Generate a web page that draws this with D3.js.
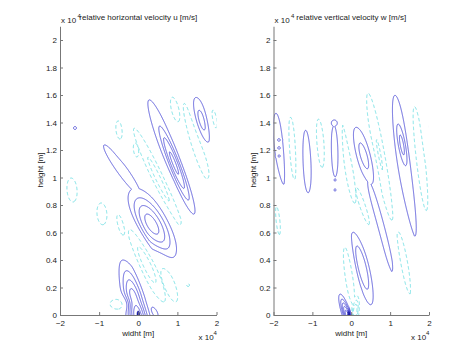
<!DOCTYPE html>
<html><head><meta charset="utf-8">
<script src="https://cdn.jsdelivr.net/npm/d3@7"></script>
<style>
body{margin:0;background:#fff}
text{font-family:"Liberation Sans",Arial,Helvetica,sans-serif;fill:#222}
</style>
</head><body>
<svg id="chart" width="474" height="350"></svg>
<script>
// ---------- data (all lengths in units of 1e4 m) ----------
const xTicks = [-2, -1, 0, 1, 2];
const yTicks = [0, 0.2, 0.4, 0.6, 0.8, 1, 1.2, 1.4, 1.6, 1.8, 2];
const xDomain = [-2, 2];
const yDomain = [0, 2.1];
const positiveLevels = [1, 2, 3, 4, 5, 6, 7, 8, 9, 10, 11, 12, 13, 14];
const negativeLevels = [1, 2, 3, 4];
const panelTitles = ["relative horizontal velocity u [m/s]", "relative vertical velocity w [m/s]"];
const xLabel = "widht [m]";
const yLabel = "height [m]";

// flow features: [centreX, centreY, tipX, tipY, halfWidth, amplitude]
const uPositive = [
  [-1.617, 1.360, -1.617, 1.371, 0.038, 1.15],
  [-0.415, 1.055, -0.875, 1.236, 0.128, 1.6],
  [0.351, 0.655, -0.160, 0.916, 0.42, 4.6],
  [0.799, 1.182, 0.275, 1.564, 0.19, 1.6],
  [0.914, 1.105, 0.403, 1.476, 0.176, 4.3],
  [1.604, 1.411, 1.450, 1.585, 0.190, 2.5],
  [1.911, 0.851, 1.911, 0.902, 0.064, 1.3],
  [1.425, 0.480, 1.323, 0.567, 0.153, 1.35],
  [-0.006, -0.0145, -0.390, 0.422, 0.307, 6],
  [0.000, -0.007, 0.000, 0.065, 0.050, 12],
  [0.428, 0.022, 0.351, 0.065, 0.077, 1.3]
];
const uNegative = [
  [-0.492, 1.345, -0.518, 1.411, 0.077, 1.3],
  [-0.058, 1.200, -0.083, 1.251, 0.064, 1.3],
  [-1.693, 0.909, -1.719, 0.996, 0.128, 1.3],
  [-0.926, 0.735, -0.952, 0.815, 0.128, 1.3],
  [-0.441, 0.647, -0.518, 0.749, 0.090, 1.3],
  [-0.441, 0.080, -0.722, 0.080, 0.153, 1.8],
  [0.198, 0.385, -0.262, 0.676, 0.204, 2.6],
  [0.530, 0.982, -0.109, 1.360, 0.153, 2.4],
  [1.476, 1.273, 1.169, 1.564, 0.150, 2.2],
  [0.939, 1.491, 0.863, 1.585, 0.102, 1.5],
  [1.936, 1.418, 1.885, 1.505, 0.077, 1.3],
  [1.272, 0.218, 1.272, 0.233, 0.050, 1.1],
  [0.760, 0.255, 0.556, 0.415, 0.153, 1.6]
];
const wPositive = [
  [-1.846, 1.189, -1.936, 1.469, 0.141, 1.6],
  [-1.859, 1.273, -1.859, 1.304, 0.11, 2.2],
  [-1.859, 1.215, -1.859, 1.246, 0.11, 2.2],
  [-1.859, 1.156, -1.859, 1.187, 0.11, 2.2],
  [-1.138, 1.120, -1.164, 1.353, 0.116, 1.5],
  [-0.418, 1.215, -0.418, 1.430, 0.103, 1.8],
  [-0.418, 1.396, -0.418, 1.425, 0.100, 2.2],
  [-0.418, 0.982, -0.418, 0.993, 0.026, 1.15],
  [-0.418, 0.909, -0.418, 0.920, 0.026, 1.15],
  [0.328, 1.156, 0.0965, 1.367, 0.206, 2.4],
  [0.765, 0.633, 0.431, 0.982, 0.141, 1.6],
  [1.408, 1.069, 1.125, 1.600, 0.206, 1.6],
  [1.305, 1.236, 1.151, 1.469, 0.141, 3.4],
  [2.103, 1.360, 2.103, 1.469, 0.103, 1.3],
  [0.2765, 0.356, 0.045, 0.640, 0.180, 3.05],
  [-0.084, -0.0145, -0.289, 0.153, 0.129, 6],
  [-0.058, -0.007, -0.084, 0.073, 0.051, 10]
];
const wNegative = [
  [-1.524, 1.200, -1.576, 1.455, 0.103, 1.5],
  [-0.804, 1.251, -0.855, 1.433, 0.103, 1.4],
  [-0.084, 1.113, -0.264, 1.440, 0.110, 1.5],
  [0.740, 1.127, 0.431, 1.615, 0.154, 2.2],
  [1.768, 1.091, 1.588, 1.564, 0.154, 1.9],
  [1.357, 0.385, 1.203, 0.655, 0.129, 1.5],
  [0.354, 0.764, 0.122, 0.945, 0.103, 1.5],
  [-0.058, 0.291, -0.161, 0.509, 0.103, 1.6],
  [0.0965, 0.022, 0.148, 0.145, 0.103, 4],
  [-1.884, 0.727, -1.936, 0.895, 0.077, 1.3]
];

// ---------- drawing ----------
const svg = d3.select("#chart");
const panels = [
  {xr: [60, 216.5], pos: uPositive, neg: uNegative, title: panelTitles[0], ylx: 43},
  {xr: [273.5, 429], pos: wPositive, neg: wNegative, title: panelTitles[1], ylx: 256}
];
const yRange = [315, 26.25];
const solidColor = "#5151d8";
const deepColor = "#1c1ca8";
const dashColor = "#6fdfe3";

panels.forEach((p, idx) => {
  const x = d3.scaleLinear().domain(xDomain).range(p.xr);
  const y = d3.scaleLinear().domain(yDomain).range(yRange);
  const kx = x(1) - x(0);
  const prep = b => {
    const [cx, cy, tx, ty, w, a] = b;
    const px = x(cx), py = y(cy), qx = x(tx), qy = y(ty);
    const L = Math.hypot(qx - px, qy - py) || 1;
    const k = a > 1.05 ? Math.sqrt(2 * Math.log(a)) : 1;
    const sa = L / k, sb = w * kx / k;
    return {px, py, ux: (qx - px) / L, uy: (qy - py) / L,
            ia: 1 / (2 * sa * sa), ib: 1 / (2 * sb * sb), a};
  };
  const posB = p.pos.map(prep), negB = p.neg.map(prep);
  const evalMax = (list, xx, yy) => {
    let m = 0;
    for (const b of list) {
      const dx = xx - b.px, dy = yy - b.py;
      const u = dx * b.ux + dy * b.uy, v = -dx * b.uy + dy * b.ux;
      const e = u * u * b.ia + v * v * b.ib;
      if (e < 25) { const val = b.a * Math.exp(-e); if (val > m) m = val; }
    }
    return m;
  };
  const step = 0.5, pad = 10;
  const gx0 = p.xr[0] - pad, gy0 = yRange[1] - pad;
  const nx = Math.ceil((p.xr[1] - p.xr[0] + 2 * pad) / step);
  const ny = Math.ceil((yRange[0] - yRange[1] + 2 * pad) / step);
  const vals = new Float64Array(nx * ny);
  for (let j = 0; j < ny; j++) {
    const yy = gy0 + (j + 0.5) * step;
    for (let i = 0; i < nx; i++) {
      const xx = gx0 + (i + 0.5) * step;
      vals[j * nx + i] = evalMax(posB, xx, yy) - evalMax(negB, xx, yy);
    }
  }
  const negVals = vals.map(v => -v);
  const path = d3.geoPath(d3.geoIdentity().scale(step).translate([gx0, gy0]));
  const clipId = "clip" + idx;
  svg.append("clipPath").attr("id", clipId).append("rect")
    .attr("x", p.xr[0]).attr("y", yRange[1])
    .attr("width", p.xr[1] - p.xr[0]).attr("height", yRange[0] - yRange[1]);
  const gc = svg.append("g").attr("clip-path", `url(#${clipId})`);
  const negC = d3.contours().size([nx, ny]).thresholds(negativeLevels)(negVals);
  gc.append("g").selectAll("path").data(negC).join("path")
    .attr("d", path).attr("fill", "none").attr("stroke", dashColor)
    .attr("stroke-width", 0.9).attr("stroke-dasharray", "3.5,2.5");
  const posC = d3.contours().size([nx, ny]).thresholds(positiveLevels)(vals);
  gc.append("g").selectAll("path").data(posC).join("path")
    .attr("d", path).attr("fill", "none")
    .attr("stroke", d => d.value <= 5 ? solidColor : deepColor)
    .attr("stroke-width", 0.9);

  // axes
  const ax = svg.append("g").attr("transform", `translate(0,${yRange[0]})`)
    .call(d3.axisBottom(x).tickValues(xTicks).tickSize(-3).tickSizeOuter(0).tickPadding(5)
      .tickFormat(d => d < 0 ? "\u2212" + Math.abs(d) : String(d)));
  const ay = svg.append("g").attr("transform", `translate(${p.xr[0]},0)`)
    .call(d3.axisLeft(y).tickValues(yTicks).tickSize(-3).tickSizeOuter(0).tickPadding(3)
      .tickFormat(d => String(d)));
  [ax, ay].forEach(a => {
    a.select(".domain").attr("stroke", "#777");
    a.selectAll(".tick line").attr("stroke", "#777");
    a.selectAll("text").attr("font-size", 8).attr("fill", "#222")
      .attr("font-family", '"Liberation Sans",Arial,sans-serif');
  });

  const cxm = (p.xr[0] + p.xr[1]) / 2;
  svg.append("text").attr("x", cxm).attr("y", 20).attr("text-anchor", "middle")
    .attr("font-size", 8).text(p.title);
  svg.append("text").attr("x", p.xr[0] + 1).attr("y", 22.5).attr("font-size", 8).text("x 10");
  svg.append("text").attr("x", p.xr[0] + 17.5).attr("y", 17.5).attr("font-size", 6).text("4");
  svg.append("text").attr("x", cxm).attr("y", 335.5).attr("text-anchor", "middle")
    .attr("font-size", 8).text(xLabel);
  svg.append("text").attr("x", p.xr[1] - 18).attr("y", 340).attr("font-size", 8).text("x 10");
  svg.append("text").attr("x", p.xr[1] - 3).attr("y", 335).attr("font-size", 6).text("4");
  svg.append("text").attr("transform", `translate(${p.ylx},170) rotate(-90)`)
    .attr("text-anchor", "middle").attr("font-size", 8).text(yLabel);
});
</script>
</body></html>
